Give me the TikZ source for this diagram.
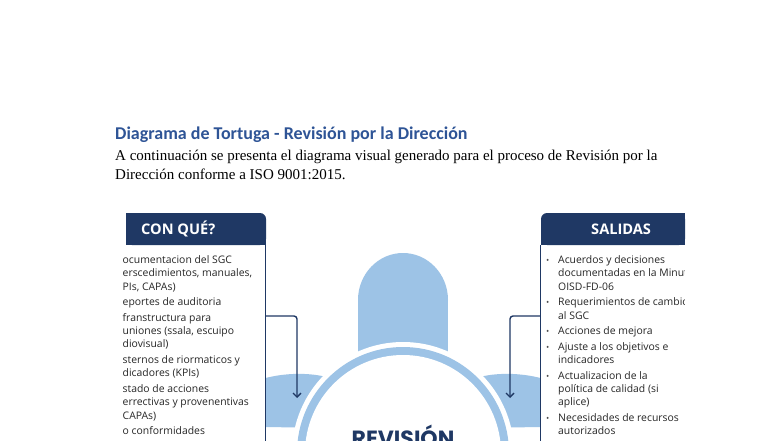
\documentclass[tikz,border=0pt]{standalone}
\usepackage{fontspec}
\setmainfont{Liberation Serif}
\newfontfamily\carl{Carlito}
\newfontfamily\osans{Open Sans}
\newfontfamily\popf{Poppins}
\usetikzlibrary{arrows.meta}
\definecolor{navy}{RGB}{31,56,100}
\definecolor{lblue}{RGB}{157,195,230}
\definecolor{ttlblue}{RGB}{46,84,150}
\tikzset{
  ltxt/.style={anchor=base west, inner sep=0pt, font=\osans\fontsize{10.4}{11}\selectfont, text=black!85},
  blt/.style={anchor=base west, inner sep=0pt, font=\osans\fontsize{8.5}{9}\selectfont, text=black!70},
  hdrtxt/.style={anchor=base west, inner sep=0pt, font=\osans\bfseries\fontsize{14.6}{16}\selectfont, text=white},
  conn/.style={draw=navy, line width=1.4pt, rounded corners=3pt, -{Straight Barb[length=4pt,width=8pt]}},
  introtxt/.style={anchor=base west, inner sep=0pt, font=\fontsize{15}{18}\selectfont, text=black}
}
\begin{document}
\begin{tikzpicture}[x=1pt,y=-1pt]
\useasboundingbox (0,0) rectangle (784,441);
\clip (0,0) rectangle (784,441);
\fill[white] (0,0) rectangle (784,441);

% heading and intro
\node[anchor=base west, inner sep=0pt, font=\carl\bfseries\fontsize{18}{21}\selectfont, text=ttlblue] (title) at (115,139.5) {Diagrama de Tortuga - Revisión por la Dirección};
\node[introtxt] (intro1) at (115,160.5) {A continuación se presenta el diagrama visual generado para el proceso de Revisión por la};
\node[introtxt] (intro2) at (115,179.5) {Dirección conforme a ISO 9001:2015.};

% turtle body
\fill[lblue] (403,300) ellipse [x radius=45, y radius=47];
\fill[lblue] (358,300) rectangle (448,352);
\fill[lblue] (265.6,378) .. controls (285,373) and (310,372) .. (330,378) -- (330,428) -- (265.6,427) -- cycle;
\fill[lblue] (540.4,378) .. controls (521,373) and (496,372) .. (476,378) -- (476,428) -- (540.4,427) -- cycle;
\fill[white] (403,453) circle [radius=111];
\fill[lblue] (403,453) circle [radius=106];
\fill[white] (403,453) circle [radius=98];
\node[anchor=base, inner sep=0pt, font=\popf\bfseries\fontsize{22}{25}\selectfont, text=navy] (proc) at (403,446) {REVISIÓN};

% left box
\fill[navy, rounded corners=6pt] (126,213) rectangle (266,245);
\fill[navy] (126,213) rectangle (220,245);
\fill[navy] (126,230) rectangle (266,245);
\node[hdrtxt] (conque) at (141,234.5) {CON QUÉ?};
\draw[navy, line width=1.2pt] (265.4,245) -- (265.4,445);

% right box
\fill[navy, rounded corners=6pt] (541,213) rectangle (685,245);
\fill[navy] (600,213) rectangle (685,245);
\fill[navy] (541,230) rectangle (685,245);
\node[hdrtxt] (salidas) at (591,234.5) {SALIDAS};
\draw[navy, line width=1.2pt] (540.6,245) -- (540.6,445);

% connectors
\coordinate (la1) at (265.4,316);
\coordinate (la2) at (297,398);
\coordinate (ra1) at (540.6,316);
\coordinate (ra2) at (510,398);
\draw[conn] (la1) -| (la2);
\draw[conn] (ra1) -| (ra2);

% left list
\begin{scope}
\clip (122,248) rectangle (264.5,441);
\node[ltxt] (l1) at (122.5,263.5) {ocumentacion del SGC};
\node[ltxt] (l2) at (122.5,276.8) {erscedimientos, manuales,};
\node[ltxt] (l3) at (122.5,290.1) {PIs, CAPAs)};
\node[ltxt] (l4) at (122.5,305.7) {eportes de auditoria};
\node[ltxt] (l5) at (122.5,321.3) {franstructura para};
\node[ltxt] (l6) at (122.5,334.6) {uniones (ssala, escuipo};
\node[ltxt] (l7) at (122.5,347.9) {diovisual)};
\node[ltxt] (l8) at (122.5,363.5) {sternos de riormaticos y};
\node[ltxt] (l9) at (122.5,376.8) {dicadores (KPIs)};
\node[ltxt] (l10) at (122.5,392.4) {stado de acciones};
\node[ltxt] (l11) at (122.5,405.7) {errectivas y provenentivas};
\node[ltxt] (l12) at (122.5,419) {CAPAs)};
\node[ltxt] (l13) at (122.5,434.6) {o conformidades};
\end{scope}

% right list
\begin{scope}
\clip (542,248) rectangle (684.5,441);
\node[blt] (b1) at (546,263.5) {•};
\node[ltxt] (r1) at (558,263.5) {Acuerdos y decisiones};
\node[ltxt] (r2) at (558,276.8) {documentadas en la Minuta};
\node[ltxt] (r3) at (558,290.1) {OISD-FD-06};
\node[blt] (b2) at (546,305.7) {•};
\node[ltxt] (r4) at (558,305.7) {Requerimientos de cambio};
\node[ltxt] (r5) at (558,319) {al SGC};
\node[blt] (b3) at (546,334.6) {•};
\node[ltxt] (r6) at (558,334.6) {Acciones de mejora};
\node[blt] (b4) at (546,350.2) {•};
\node[ltxt] (r7) at (558,350.2) {Ajuste a los objetivos e};
\node[ltxt] (r8) at (558,363.5) {indicadores};
\node[blt] (b5) at (546,379.1) {•};
\node[ltxt] (r9) at (558,379.1) {Actualizacion de la};
\node[ltxt] (r10) at (558,392.4) {política de calidad (si};
\node[ltxt] (r11) at (558,405.7) {aplice)};
\node[blt] (b6) at (546,421.3) {•};
\node[ltxt] (r12) at (558,421.3) {Necesidades de recursos};
\node[ltxt] (r13) at (558,434.6) {autorizados};
\end{scope}
\end{tikzpicture}
\end{document}
